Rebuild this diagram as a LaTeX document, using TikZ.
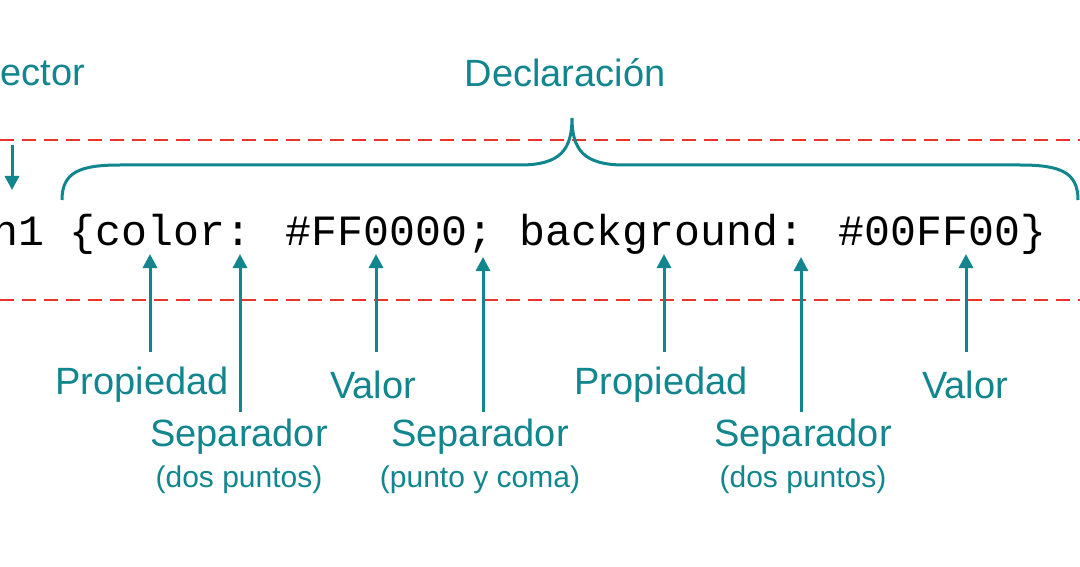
\documentclass[tikz,border=0pt]{standalone}
\usepackage{fontspec}
\setmainfont{Liberation Sans}
\newfontfamily\codefont{Liberation Mono}
\usetikzlibrary{arrows.meta}
\definecolor{teal1}{HTML}{12868F}
\definecolor{red1}{HTML}{E8352A}
\tikzset{
  lbl/.style={text=teal1,font=\fontsize{38}{42}\selectfont,inner sep=0pt},
  sub/.style={text=teal1,font=\fontsize{30}{33}\selectfont,inner sep=0pt},
  up/.style={draw=teal1,line width=3pt,-{Triangle[length=14pt,width=14pt]}},
  guide/.style={draw=red1,line width=2.5pt,dash pattern=on 14pt off 8pt}
}
\begin{document}
\begin{tikzpicture}[x=1pt,y=-1pt]
\useasboundingbox[fill=white] (0,0) rectangle (1080,567);
\draw[guide] (0,140) -- (1080,140);
\draw[guide] (0,300) -- (1080,300);
\node[anchor=base west,inner sep=0pt,font=\codefont\fontsize{43.2}{46}\selectfont] (code) at (-8,245) {h1 {\char`\{}color: \#FF0000; background: \#00FF00{\char`\}}};
\draw[teal1,line width=3pt] (62,200) .. controls (62,172) and (80,165) .. (120,165) -- (520,165) .. controls (560,165) and (572,150) .. (572,118)
  .. controls (572,150) and (584,165) .. (624,165) -- (1020,165) .. controls (1060,165) and (1078,172) .. (1078,200);
\node[lbl] (decl) at (565,73) {Declaración};
\node[lbl,anchor=east] (sel) at (85,73) {ector};
\coordinate (s0) at (12,145); \coordinate (s1) at (12,190);
\draw[up] (s0) -- (s1);
\node[lbl] (p1) at (142,385) {Propiedad};
\node[lbl] (s1l) at (239,437) {Separador};
\node[sub] (s1s) at (239,480) {(dos puntos)};
\node[lbl] (v1) at (373,385) {Valor};
\node[lbl] (s2l) at (480,437) {Separador};
\node[sub] (s2s) at (480,480) {(punto y coma)};
\node[lbl] (p2) at (661,385) {Propiedad};
\node[lbl] (s3l) at (803,437) {Separador};
\node[sub] (s3s) at (803,480) {(dos puntos)};
\node[lbl] (v2) at (965,385) {Valor};
\foreach \n/\x/\yb/\yt in {a/150/352/254, b/240/412/254, c/376/352/254, d/483/412/257, e/664/352/254, f/801/412/257, g/966/352/254}{
  \coordinate (\n0) at (\x,\yb); \coordinate (\n1) at (\x,\yt);
  \draw[up] (\n0) -- (\n1);
}
\end{tikzpicture}
\end{document}
